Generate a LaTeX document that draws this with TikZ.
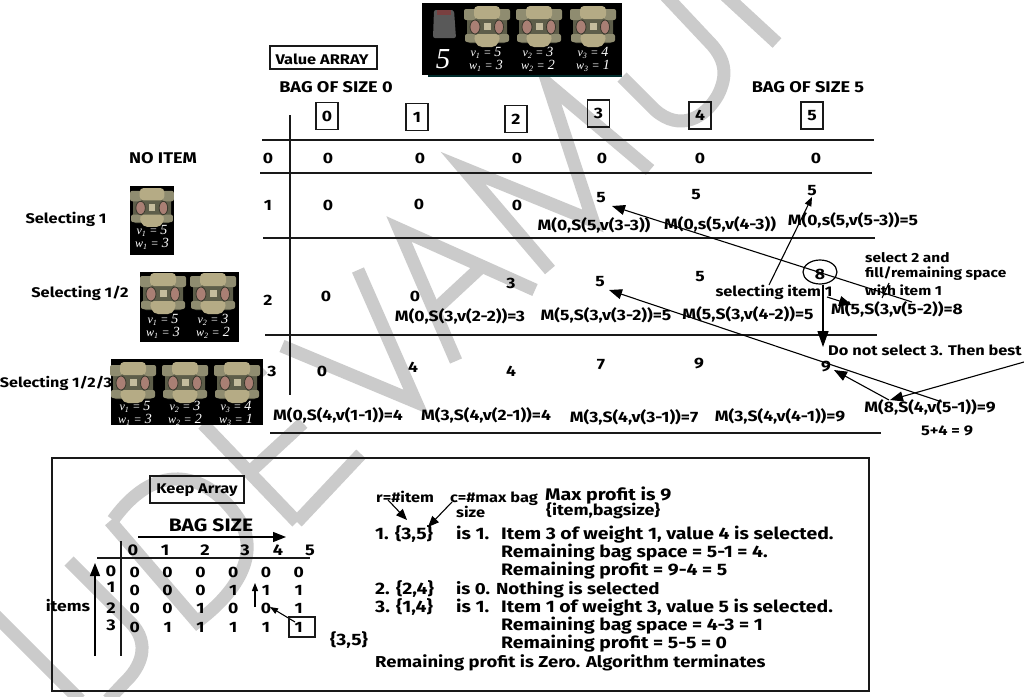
\documentclass[tikz,border=0pt]{standalone}
\usepackage{fontspec}
\setmainfont[FakeStretch=1.17]{Fira Sans}
\newfontfamily\imgf{Liberation Serif}
\usetikzlibrary{arrows.meta}
\definecolor{wm}{HTML}{CBCBCB}
\definecolor{ctan}{HTML}{B5AB85}
\definecolor{colive}{HTML}{5E5E4A}
\definecolor{cside}{HTML}{8F8C70}
\definecolor{cpink}{HTML}{A97F74}
\tikzset{
  wmark/.style={draw=wm,line width=13pt,line join=miter,line cap=butt},
  txt/.style={inner sep=0pt,text=black,font=\fontsize{13.5}{15}\selectfont\bfseries},
  val/.style={txt,font=\fontsize{15}{15}\selectfont\bfseries},
  lab/.style={txt,font=\fontsize{14}{15}\selectfont\bfseries},
  caps/.style={txt,font=\fontsize{15.5}{15}\selectfont\bfseries},
  big/.style={txt,font=\fontsize{16.6}{17}\selectfont\bfseries,anchor=base west},
  small/.style={txt,font=\fontsize{14}{14}\selectfont\bfseries},
  note/.style={txt,font=\fontsize{13.2}{14}\selectfont\bfseries},
  mlabel/.style={txt,font=\fontsize{15}{15}\selectfont\bfseries},
  hline/.style={draw=black!90,line width=1.3pt},
  boxed/.style={draw=black!90,line width=1.4pt},
  conn/.style={draw=black,line width=1.1pt,-{Triangle[length=13pt,width=10pt]}},
  plainconn/.style={draw=black,line width=1.1pt},
  imgt/.style={inner sep=0pt,text=white,font=\imgf\itshape\fontsize{12}{12}\selectfont},
}
\newcommand\cube[3]{%
 \begin{scope}[shift={(#1,#2)},scale=#3]
  \fill[colive,rounded corners=3pt] (-20,-16) rectangle (20,17);
  \fill[cside,rounded corners=2pt] (-23,-17) rectangle (-11,-6);
  \fill[cside,rounded corners=2pt] (23,-17) rectangle (11,-6);
  \fill[cside,rounded corners=2pt] (-22,8) rectangle (-11,16);
  \fill[cside,rounded corners=2pt] (22,8) rectangle (11,16);
  \fill[ctan,rounded corners=4pt] (-13,-20) rectangle (13,-7);
  \fill[ctan,rounded corners=5pt] (-14,8) -- (14,8) -- (10,21) -- (-10,21) -- cycle;
  \fill[cpink,draw=colive!60!black,line width=.8pt] (-12,1) ellipse (5 and 7);
  \fill[cpink,draw=colive!60!black,line width=.8pt] (12,1) ellipse (4.5 and 7);
  \fill[ctan!80!white] (-3.5,-3) rectangle (3.5,4);
 \end{scope}}
\newcommand\vwtext[6]{% name, sub, v, w, x, y
 \node[imgt] (#1v) at (#5,#6) {v\textsubscript{#2} = \fontsize{14}{12}\selectfont #3};
 \node[imgt] (#1w) at (#5,#6+13) {w\textsubscript{#2} = \fontsize{14}{12}\selectfont #4};}
\begin{document}
\begin{tikzpicture}[x=1pt,y=-1pt]
\useasboundingbox (0,0) rectangle (1024,696);
\fill[white] (0,0) rectangle (1024,696);
% watermark
\draw[wmark] (-5,615) -- (80,700);
\draw[wmark] (69,561) -- (130,622) .. controls (152,644) and (140,668) .. (125,682) -- (108,700);
\draw[wmark] (110,521) -- (197,622) .. controls (240,590) and (262,550) .. (236,515) .. controls (210,478) and (160,455) .. (113,520);
\draw[wmark] (203,424) -- (297,522);
\draw[wmark] (263,368) -- (203,424);
\draw[wmark] (303,423) -- (252,470);
\draw[wmark] (361,454) -- (297,522);
\draw[wmark] (282,346) -- (416,402) -- (358,270);
\draw[wmark] (456,361) -- (399,229) -- (535,290);
\draw[wmark] (480,268) -- (438,307);
\draw[wmark] (550,270) -- (463,168) -- (593,221) -- (548,84) -- (650,170);
\draw[wmark] (622,77) -- (655,110) .. controls (680,132) and (705,118) .. (718,95) .. controls (728,75) and (725,60) .. (712,45) -- (665,-5);
\draw[wmark] (725,-5) -- (777,43);
% images
\fill[black] (422,3) rectangle (622,75);
\fill[black!65!teal] (428,75) rectangle (622,77);
\fill[black!65!white,rounded corners=2pt] (434,10) -- (454,10) -- (456,38) -- (433,38) -- cycle;
\fill[red!30!black!75!white] (437,10) rectangle (451,15);
\cube{487}{26}{1}\cube{539}{26}{1}\cube{593}{26}{1}
\node[imgt,font=\imgf\itshape\fontsize{29}{29}\selectfont] (bag5) at (443,59) {5};
\vwtext{a}{1}{5}{3}{486}{53}\vwtext{b}{2}{3}{2}{538}{53}\vwtext{c}{3}{4}{1}{593}{53}
\fill[black] (130,186) rectangle (174,255);
\cube{152}{207}{.95}
\vwtext{d}{1}{5}{3}{152}{231}
\fill[black] (140,272) rectangle (239,342);
\cube{163}{293}{1}\cube{213}{293}{1}
\vwtext{e}{1}{5}{3}{163}{320}\vwtext{f}{2}{3}{2}{213}{320}
\fill[black] (111,359) rectangle (263,425);
\cube{133}{382}{1}\cube{185}{382}{1}\cube{237}{382}{1}
\vwtext{g}{1}{5}{3}{135}{407}\vwtext{h}{2}{3}{2}{185}{407}\vwtext{i}{3}{4}{1}{236}{407}
% table lines
\draw[hline] (262,140) -- (874,140);
\draw[hline] (260,173) -- (872,173);
\draw[hline] (263,238) -- (875,238);
\draw[hline] (265,335) -- (877,335);
\draw[hline] (270,433) -- (881,433);
\draw[hline] (290,115) -- (290,395);
% headings
\node[boxed,minimum width=107pt,minimum height=23pt,inner sep=0pt] (vbox) at (323.5,57.5) {};
\node[lab] (vtext) at (322,59) {Value ARRAY};
\node[caps] (bs0) at (336,87) {BAG OF SIZE 0};
\node[caps] (bs5) at (808,87) {BAG OF SIZE 5};
\foreach \n/\x/\y in {0/327/116,1/417/117,2/516/119,3/598.5/113.5,4/700/115.5,5/812/115.5}
  \node[boxed,minimum width=22pt,minimum height=27pt,inner sep=0pt,val] (h\n) at (\x,\y) {\n};
% row labels
\node[caps] (noitem) at (163,158) {NO ITEM};
\node[lab] (sel1) at (66,219) {Selecting 1};
\node[lab] (sel2) at (80,293) {Selecting 1/2};
\node[lab,font=\fontsize{13.8}{15}\selectfont\bfseries] (sel3) at (56,383) {Selecting 1/2/3};
\foreach \n/\x/\y/\t in {r0/268/158/0,r1/268/205/1,r2/268/300/2,r3/272/371/3,
 a0/328/158/0,a1/420/158/0,a2/517/158/0,a3/602/158/0,a4/700/158/0,a5/816/158/0,
 b0/328/205/0,b1/419/204/0,b2/517/205/0,b3/601/198/5,b4/696/195/5,b5/812/191/5,
 c0/326/296/0,c1/415/296/0,c2/511/283/3,c3/600/282/5,c4/700/277/5,c5/820/274/8,
 d0/322/371/0,d1/413/367/4,d2/511/371/4,d3/601/365/7,d4/699/364/9,d5/826/367/9}
  \node[val] (v\n) at (\x,\y) {\t};
\draw[line width=1.2pt] (820,272) ellipse (17 and 12);
% M labels
\foreach \n/\x/\y/\t in {
 m1/594/225/{M(0,S(5,v(3-3))},
 m2/720/224/{M(0,s(5,v(4-3))},
 m3/853/220/{M(0,s(5,v(5-3))=5},
 m4/460/316/{M(0,S(3,v(2-2))=3},
 m5/606/315/{M(5,S(3,v(3-2))=5},
 m6/748/314/{M(5,S(3,v(4-2))=5},
 m7/897/309/{M(5,S(3,v(5-2))=8},
 m8/338/415/{M(0,S(4,v(1-1))=4},
 m9/486/415/{M(3,S(4,v(2-1))=4},
 m10/634/417/{M(3,S(4,v(3-1))=7},
 m11/780/416/{M(3,S(4,v(4-1))=9},
 m12/930/407/{M(8,S(4,v(5-1))=9}}
  \node[mlabel] (\n) at (\x,\y) {\t};
\node[small] (sum) at (947,431) {5+4 = 9};
\node[small] (sel) at (774,292) {selecting item 1};
\node[note,anchor=west] (n1) at (865,258) {select 2 and};
\node[note,anchor=west] (n2) at (865,274) {fill/remaining space};
\node[note,anchor=west] (n3) at (865,290) {with item 1};
\node[small,anchor=west] (n4) at (828,350) {Do not select 3. Then best};
% connectors
\coordinate (p1) at (912,302); \coordinate (t1) at (612,206);
\coordinate (p2) at (769,285); \coordinate (t2) at (812,197);
\coordinate (p3) at (942,402); \coordinate (t3) at (609,290);
\coordinate (p4) at (823,285); \coordinate (t4) at (823,347);
\coordinate (p5) at (827,297); \coordinate (t5) at (852,305);
\coordinate (p6) at (889,283); \coordinate (t6) at (882,298);
\coordinate (p7) at (889,400); \coordinate (t7) at (834,370);
\coordinate (p8) at (1024,362); \coordinate (t8) at (890,400);
\draw[conn] (p1) -- (t1);
\draw[conn,-{Triangle[length=9pt,width=7pt]}] (p2) -- (t2);
\draw[conn] (p3) -- (t3);
\draw[conn,line width=1.3pt,-{Triangle[length=16pt,width=11pt]}] (p4) -- (t4);
\draw[conn] (p5) -- (t5);
\draw[plainconn] (p6) -- (t6);
\draw[conn] (p7) -- (t7);
\draw[conn] (p8) -- (t8);
% bottom box
\node[boxed,minimum width=817pt,minimum height=233pt,inner sep=0pt] (outer) at (460.5,574.5) {};
\node[boxed,minimum width=94pt,minimum height=27pt,inner sep=0pt] (kbox) at (197,489.5) {};
\node[lab] (ktext) at (197,490) {Keep Array};
\node[txt,font=\fontsize{18}{18}\selectfont\bfseries] (bagsize) at (211,525) {BAG SIZE};
\coordinate (bs1) at (138,537); \coordinate (bs2) at (286,537);
\draw[conn,line width=1.3pt] (bs1) -- (bs2);
\foreach \n/\x in {0/133,1/165,2/205,3/245,4/278,5/310}
  \node[val,font=\fontsize{15.5}{15}\selectfont\bfseries] (k\n) at (\x,550) {\n};
\draw[hline] (97,558) -- (310,558);
\draw[hline] (121,541) -- (121,656);
\coordinate (it1) at (95,656); \coordinate (it2) at (95,563);
\draw[conn,line width=1.3pt] (it1) -- (it2);
\foreach \n/\y in {0/571,1/587,2/608,3/625}
  \node[val,font=\fontsize{15.5}{15}\selectfont\bfseries] (q\n) at (111,\y) {\n};
\foreach \ry/\row [count=\r] in {572/{0,0,0,0,0,0},590/{0,0,0,1,1,1},608/{0,0,1,0,0,1},627/{0,1,1,1,1,1}}{
  \foreach \t [count=\c] in \row {
    \pgfmathsetmacro\xx{102+32.8*\c}
    \node[val] (kv\r\c) at (\xx,\ry) {\t};
  }
}
\coordinate (sa1) at (255,607); \coordinate (sa2) at (255,583);
\draw[conn,-{Triangle[length=8pt,width=6pt]}] (sa1) -- (sa2);
\coordinate (sb1) at (295,622); \coordinate (sb2) at (270,607);
\draw[conn,-{Triangle[length=8pt,width=6pt]}] (sb1) -- (sb2);
\node[draw=black!90,line width=1.1pt,minimum width=26pt,minimum height=20pt,inner sep=0pt] (kbx) at (302,627) {};
\node[val,font=\fontsize{16.5}{15}\selectfont\bfseries] (k35) at (349,640) {\{3,5\}};
\node[lab,font=\fontsize{15}{15}\selectfont\bfseries] (items) at (68,606) {items};
% right text
\node[small,anchor=base west] (rr) at (376,502) {r=\#item};
\node[small,anchor=base west] (cc) at (450,502) {c=\#max bag};
\node[small,anchor=base west] (ss) at (456,517) {size};
\node[big,font=\fontsize{16.8}{17}\selectfont\bfseries] (mp) at (545,500) {Max profit is 9};
\node[big,font=\fontsize{15.3}{17}\selectfont\bfseries] (ib) at (546,515) {\{item,bagsize\}};
\coordinate (ra1) at (388,500); \coordinate (ra2) at (407,520);
\coordinate (ca1) at (452,502); \coordinate (ca2) at (428,527);
\draw[conn,-{Triangle[length=11pt,width=9pt]}] (ra1) -- (ra2);
\draw[conn,-{Triangle[length=11pt,width=9pt]}] (ca1) -- (ca2);
\node[big] (l1) at (375,539) {1. \{3,5\}};
\node[big] (l1b) at (456,539) {is 1.};
\node[big] (l1c) at (501,539) {Item 3 of weight 1, value 4 is selected.};
\node[big] (l2) at (501,557) {Remaining bag space = 5-1 = 4.};
\node[big] (l3) at (501,575) {Remaining profit = 9-4 = 5};
\node[big] (l4) at (375,594) {2. \{2,4\}};
\node[big,font=\fontsize{16}{17}\selectfont\bfseries] (l4b) at (456,594) {is 0. Nothing is selected};
\node[big] (l5) at (375,612) {3. \{1,4\}};
\node[big] (l5b) at (456,612) {is 1.};
\node[big] (l5c) at (501,612) {Item 1 of weight 3, value 5 is selected.};
\node[big] (l6) at (501,630) {Remaining bag space = 4-3 = 1};
\node[big] (l7) at (501,648) {Remaining profit = 5-5 = 0};
\node[big,font=\fontsize{15.8}{17}\selectfont\bfseries] (l8) at (375,667) {Remaining profit is Zero. Algorithm terminates};
\end{tikzpicture}
\end{document}
